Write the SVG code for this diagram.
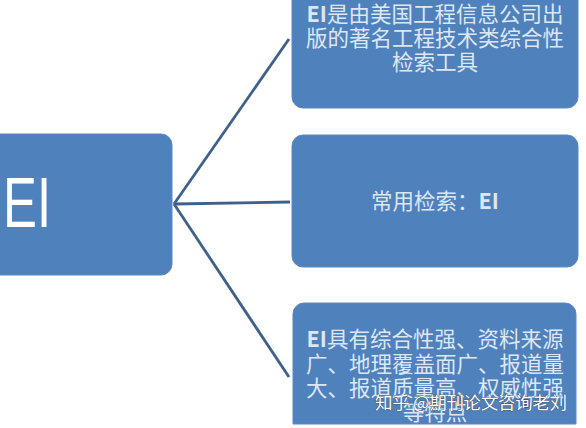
<svg xmlns="http://www.w3.org/2000/svg" width="586" height="428" viewBox="0 0 586 428">
<style>
.box{fill:#4f81bd;stroke:#5a8ac4;stroke-width:1}
.t{font-family:"Noto Sans CJK SC","Liberation Sans",sans-serif;font-size:21.5px;fill:#dde7f3;text-anchor:middle}
.b{font-weight:bold}
.line{stroke:#3f6189;stroke-width:2.8;fill:none}
</style>
<rect width="586" height="428" fill="#ffffff"/>
<g id="connectors">
<line class="line" x1="174" y1="204" x2="289" y2="39"/>
<line class="line" x1="174" y1="204" x2="290" y2="202"/>
<line class="line" x1="174" y1="204" x2="289" y2="377"/>
</g>
<g id="node-root">
<rect class="box" x="-20" y="134" width="192" height="141" rx="11"/>
<text x="3" y="227" font-family="Liberation Sans, sans-serif" font-size="70" fill="#ffffff" textLength="48" lengthAdjust="spacingAndGlyphs">EI</text>
</g>
<g id="node-top">
<rect class="box" x="292" y="-20" width="286" height="128" rx="11"/>
<text class="t" x="435" y="22"><tspan class="b">EI</tspan>是由美国工程信息公司出</text>
<text class="t" x="435" y="46">版的著名工程技术类综合性</text>
<text class="t" x="435" y="70">检索工具</text>
</g>
<g id="node-middle">
<rect class="box" x="292" y="135" width="286" height="132" rx="11"/>
<text class="t" x="435" y="209" font-size="20.5">常用检索：<tspan class="b">EI</tspan></text>
</g>
<g id="node-bottom">
<path class="box" d="M293,424 V314 A11,11 0 0 1 304,303 H565 A11,11 0 0 1 576,314 V424 Z"/>
<text class="t" x="435" y="347"><tspan class="b">EI</tspan>具有综合性强、资料来源</text>
<text class="t" x="435" y="372">广、地理覆盖面广、报道量</text>
<text class="t" x="435" y="396">大、报道质量高、权威性强</text>
<text class="t" x="435" y="420">等特点</text>
</g>
<text x="375" y="409" font-family="Noto Sans CJK SC, sans-serif" font-size="17.5" fill="#ffffff" stroke="#333333" stroke-width="0.6" paint-order="stroke" textLength="192">知乎 @期刊论文咨询老刘</text>
</svg>
